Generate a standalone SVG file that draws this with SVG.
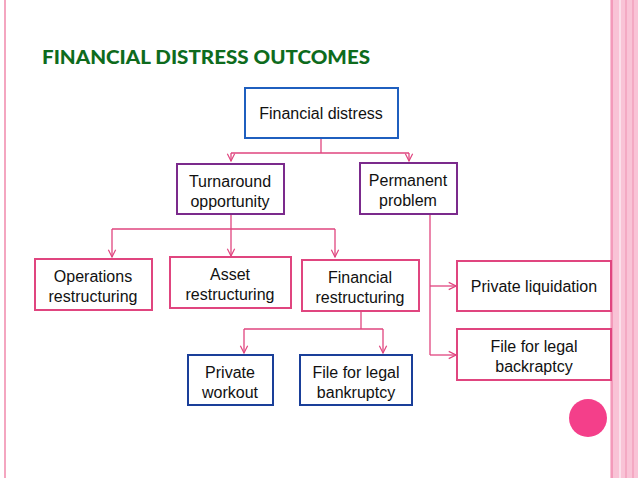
<svg xmlns="http://www.w3.org/2000/svg" width="638" height="478" viewBox="0 0 638 478">
<defs>
<style>
.n{fill:#fff;stroke-width:2}
.b{stroke:#1f5fbf}.p{stroke:#7b2a8c}.k{stroke:#e0457f}.d{stroke:#1a3f99}
.t{font-family:"Liberation Sans",Arial,sans-serif;font-size:16px;fill:#111;text-anchor:middle}
.c{fill:none;stroke:#e0457f;stroke-width:1.3}
</style>
<marker id="a" viewBox="0 0 10 10" refX="9" refY="5" markerWidth="7" markerHeight="7" orient="auto"><path d="M1,1 L9,5 L1,9" fill="none" stroke="#e0457f" stroke-width="1.3"/></marker>
</defs>
<rect width="638" height="478" fill="#fff"/>
<line x1="5" y1="0" x2="5" y2="478" stroke="#f4a6c0" stroke-width="2"/>
<rect x="610" y="0" width="28" height="478" fill="#f9c3d6"/>
<line x1="612" y1="0" x2="612" y2="478" stroke="#f08cb0" stroke-width="1.5"/>
<line x1="620" y1="0" x2="620" y2="478" stroke="#fbe0ea" stroke-width="2"/>
<line x1="626" y1="0" x2="626" y2="478" stroke="#f2a0bd" stroke-width="1.5"/>
<line x1="633" y1="0" x2="633" y2="478" stroke="#f2a0bd" stroke-width="1.5"/>
<text x="42" y="64" font-family="Lato,'Open Sans',sans-serif" font-weight="900" font-size="19" fill="#0e6b1d" textLength="328" lengthAdjust="spacingAndGlyphs">FINANCIAL DISTRESS OUTCOMES</text>
<g id="connectors">
<path class="c" d="M321,138 V153 M231,153 H409"/>
<path class="c" d="M231,153 V161" marker-end="url(#a)"/>
<path class="c" d="M409,153 V161" marker-end="url(#a)"/>
<path class="c" d="M231,214 V229 M112,229 H335"/>
<path class="c" d="M112,229 V257" marker-end="url(#a)"/>
<path class="c" d="M231,229 V256" marker-end="url(#a)"/>
<path class="c" d="M335,229 V257" marker-end="url(#a)"/>
<path class="c" d="M430,214 V355"/>
<path class="c" d="M430,286 H456" marker-end="url(#a)"/>
<path class="c" d="M430,355 H456" marker-end="url(#a)"/>
<path class="c" d="M361,311 V329 M244,329 H383"/>
<path class="c" d="M244,329 V353" marker-end="url(#a)"/>
<path class="c" d="M383,329 V353" marker-end="url(#a)"/>
</g>
<g id="n1"><rect class="n b" x="245" y="88" width="153" height="50"/><text class="t" x="321" y="119">Financial distress</text></g>
<g id="n2"><rect class="n p" x="177" y="164" width="107" height="50"/><text class="t" x="230" y="187">Turnaround</text><text class="t" x="230" y="207">opportunity</text></g>
<g id="n3"><rect class="n p" x="360" y="163" width="97" height="51"/><text class="t" x="408" y="186">Permanent</text><text class="t" x="408" y="206">problem</text></g>
<g id="n4"><rect class="n k" x="35" y="259" width="117" height="51"/><text class="t" x="93" y="282">Operations</text><text class="t" x="93" y="302">restructuring</text></g>
<g id="n5"><rect class="n k" x="170" y="257" width="121" height="51"/><text class="t" x="230" y="280">Asset</text><text class="t" x="230" y="300">restructuring</text></g>
<g id="n6"><rect class="n k" x="302" y="260" width="117" height="51"/><text class="t" x="360" y="283">Financial</text><text class="t" x="360" y="303">restructuring</text></g>
<g id="n7"><rect class="n k" x="457" y="261" width="154" height="50"/><text class="t" x="534" y="292">Private liquidation</text></g>
<g id="n8"><rect class="n k" x="457" y="329" width="154" height="51"/><text class="t" x="534" y="352">File for legal</text><text class="t" x="534" y="372">backraptcy</text></g>
<g id="n9"><rect class="n d" x="188" y="355" width="85" height="50"/><text class="t" x="230" y="378">Private</text><text class="t" x="230" y="398">workout</text></g>
<g id="n10"><rect class="n d" x="300" y="355" width="112" height="50"/><text class="t" x="356" y="378">File for legal</text><text class="t" x="356" y="398">bankruptcy</text></g>
<ellipse cx="588" cy="418" rx="19" ry="19" fill="#f43f8a"/>
</svg>
